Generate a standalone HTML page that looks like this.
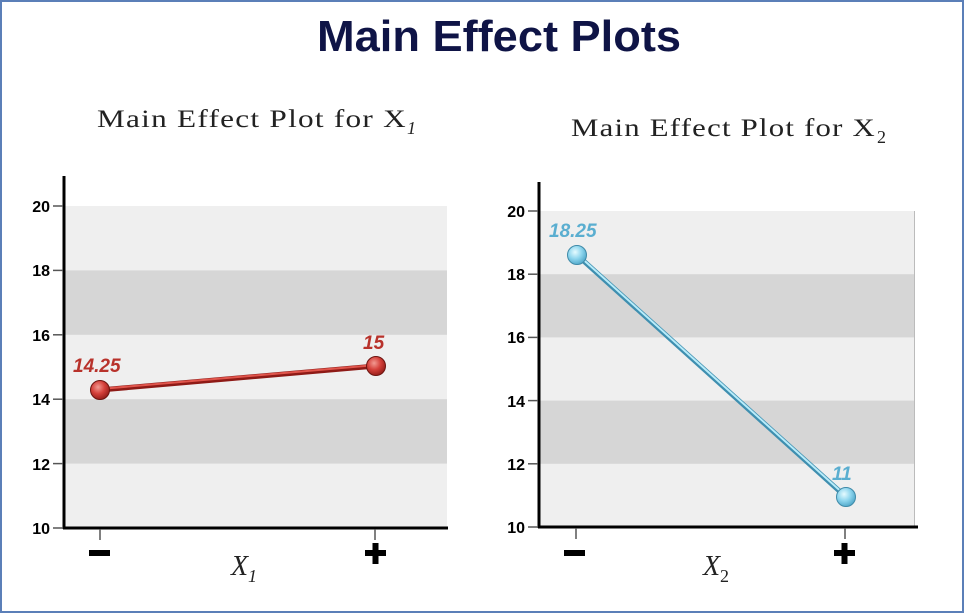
<!DOCTYPE html>
<html><head><meta charset="utf-8"><style>
html,body{margin:0;padding:0;background:#fff}
svg{display:block}
</style></head><body>
<svg width="964" height="613" viewBox="0 0 964 613" xmlns="http://www.w3.org/2000/svg">
<defs>
<radialGradient id="rg" cx="0.4" cy="0.35" r="0.7">
<stop offset="0" stop-color="#f29a92"/><stop offset="0.5" stop-color="#d4403a"/><stop offset="1" stop-color="#8e1a16"/>
</radialGradient>
<radialGradient id="bg" cx="0.4" cy="0.35" r="0.7">
<stop offset="0" stop-color="#e6fbff"/><stop offset="0.5" stop-color="#8fd6ee"/><stop offset="1" stop-color="#4aa3c6"/>
</radialGradient>
</defs>
<rect x="1" y="1" width="962" height="611" fill="#fff" stroke="#5b7fb8" stroke-width="2"/>
<text x="499" y="51" text-anchor="middle" font-family="Liberation Sans, sans-serif" font-weight="bold" font-size="44" fill="#0f1446" textLength="364" lengthAdjust="spacingAndGlyphs">Main Effect Plots</text>
<text x="97" y="127" font-family="Liberation Serif, serif" font-size="25" fill="#222" textLength="310" lengthAdjust="spacingAndGlyphs" letter-spacing="1">Main Effect Plot for X</text>
<text x="407" y="134" font-family="Liberation Serif, serif" font-style="italic" font-size="18" fill="#222">1</text>
<text x="571" y="136" font-family="Liberation Serif, serif" font-size="25" fill="#222" textLength="305" lengthAdjust="spacingAndGlyphs" letter-spacing="1">Main Effect Plot for X</text>
<text x="877" y="143" font-family="Liberation Serif, serif" font-size="18" fill="#222">2</text>

<!-- Left chart -->
<g>
<rect x="65" y="206" width="382" height="322" fill="#efefef"/>
<rect x="65" y="270.4" width="382" height="64.4" fill="#d6d6d6"/>
<rect x="65" y="399.2" width="382" height="64.4" fill="#d6d6d6"/>
<line x1="64" y1="176" x2="64" y2="529" stroke="#000" stroke-width="3"/>
<line x1="63" y1="528" x2="448" y2="528" stroke="#000" stroke-width="3"/>
<g stroke="#555" stroke-width="1.5">
<line x1="53" y1="206" x2="63" y2="206"/><line x1="53" y1="270.4" x2="63" y2="270.4"/><line x1="53" y1="334.8" x2="63" y2="334.8"/>
<line x1="53" y1="399.2" x2="63" y2="399.2"/><line x1="53" y1="463.6" x2="63" y2="463.6"/><line x1="53" y1="528" x2="63" y2="528"/>
<line x1="100" y1="529" x2="100" y2="540"/><line x1="375" y1="529" x2="375" y2="540"/>
</g>
<g font-family="Liberation Sans, sans-serif" font-weight="bold" font-size="16" fill="#000" text-anchor="end">
<text x="50" y="212">20</text><text x="50" y="276">18</text><text x="50" y="341">16</text>
<text x="50" y="405">14</text><text x="50" y="470">12</text><text x="50" y="534">10</text>
</g>
<rect x="89" y="550" width="21" height="6" fill="#000"/>
<rect x="365" y="550" width="21" height="6" fill="#000"/><rect x="372.5" y="543" width="6" height="21" fill="#000"/>
<text x="231" y="575" font-family="Liberation Serif, serif" font-style="italic" font-size="28" fill="#222">X</text>
<text x="248" y="582" font-family="Liberation Serif, serif" font-style="italic" font-size="18" fill="#222">1</text>
<line x1="100" y1="390" x2="376" y2="366" stroke="#8e1a16" stroke-width="5"/>
<line x1="100" y1="389" x2="376" y2="365" stroke="#e0554c" stroke-width="2"/>
<circle cx="100" cy="390" r="9.5" fill="url(#rg)" stroke="#6b1410" stroke-width="1"/>
<circle cx="376" cy="366" r="9.5" fill="url(#rg)" stroke="#6b1410" stroke-width="1"/>
<g font-family="Liberation Sans, sans-serif" font-weight="bold" font-style="italic" font-size="19" fill="#b8322b">
<text x="73" y="372">14.25</text><text x="363" y="349">15</text>
</g>
</g>

<!-- Right chart -->
<g>
<rect x="540" y="211" width="375" height="316" fill="#efefef"/>
<rect x="540" y="274.2" width="375" height="63.2" fill="#d6d6d6"/>
<rect x="540" y="400.6" width="375" height="63.2" fill="#d6d6d6"/>
<line x1="914.5" y1="211" x2="914.5" y2="527" stroke="#bbb" stroke-width="1"/>
<line x1="539" y1="182" x2="539" y2="528" stroke="#000" stroke-width="3"/>
<line x1="538" y1="527" x2="918" y2="527" stroke="#000" stroke-width="3"/>
<g stroke="#555" stroke-width="1.5">
<line x1="528" y1="211" x2="538" y2="211"/><line x1="528" y1="274.2" x2="538" y2="274.2"/><line x1="528" y1="337.4" x2="538" y2="337.4"/>
<line x1="528" y1="400.6" x2="538" y2="400.6"/><line x1="528" y1="463.8" x2="538" y2="463.8"/><line x1="528" y1="527" x2="538" y2="527"/>
<line x1="576" y1="528" x2="576" y2="539"/><line x1="845" y1="528" x2="845" y2="539"/>
</g>
<g font-family="Liberation Sans, sans-serif" font-weight="bold" font-size="16" fill="#000" text-anchor="end">
<text x="525" y="217">20</text><text x="525" y="280">18</text><text x="525" y="343">16</text>
<text x="525" y="407">14</text><text x="525" y="470">12</text><text x="525" y="533">10</text>
</g>
<rect x="564" y="550" width="21" height="6" fill="#000"/>
<rect x="834" y="550" width="21" height="6" fill="#000"/><rect x="841.5" y="543" width="6" height="21" fill="#000"/>
<text x="703" y="575" font-family="Liberation Serif, serif" font-style="italic" font-size="28" fill="#222">X</text>
<text x="720" y="582" font-family="Liberation Serif, serif" font-size="18" fill="#222">2</text>
<line x1="577" y1="255" x2="846" y2="497" stroke="#3f8fb0" stroke-width="5"/>
<line x1="577" y1="254" x2="846" y2="496" stroke="#b8ecfa" stroke-width="2"/>
<circle cx="577" cy="255" r="9.5" fill="url(#bg)" stroke="#3f8aa8" stroke-width="1"/>
<circle cx="846" cy="497" r="9.5" fill="url(#bg)" stroke="#3f8aa8" stroke-width="1"/>
<g font-family="Liberation Sans, sans-serif" font-weight="bold" font-style="italic" font-size="19" fill="#5aaed0">
<text x="549" y="237">18.25</text><text x="832" y="480">11</text>
</g>
</g>
</svg>
</body></html>
